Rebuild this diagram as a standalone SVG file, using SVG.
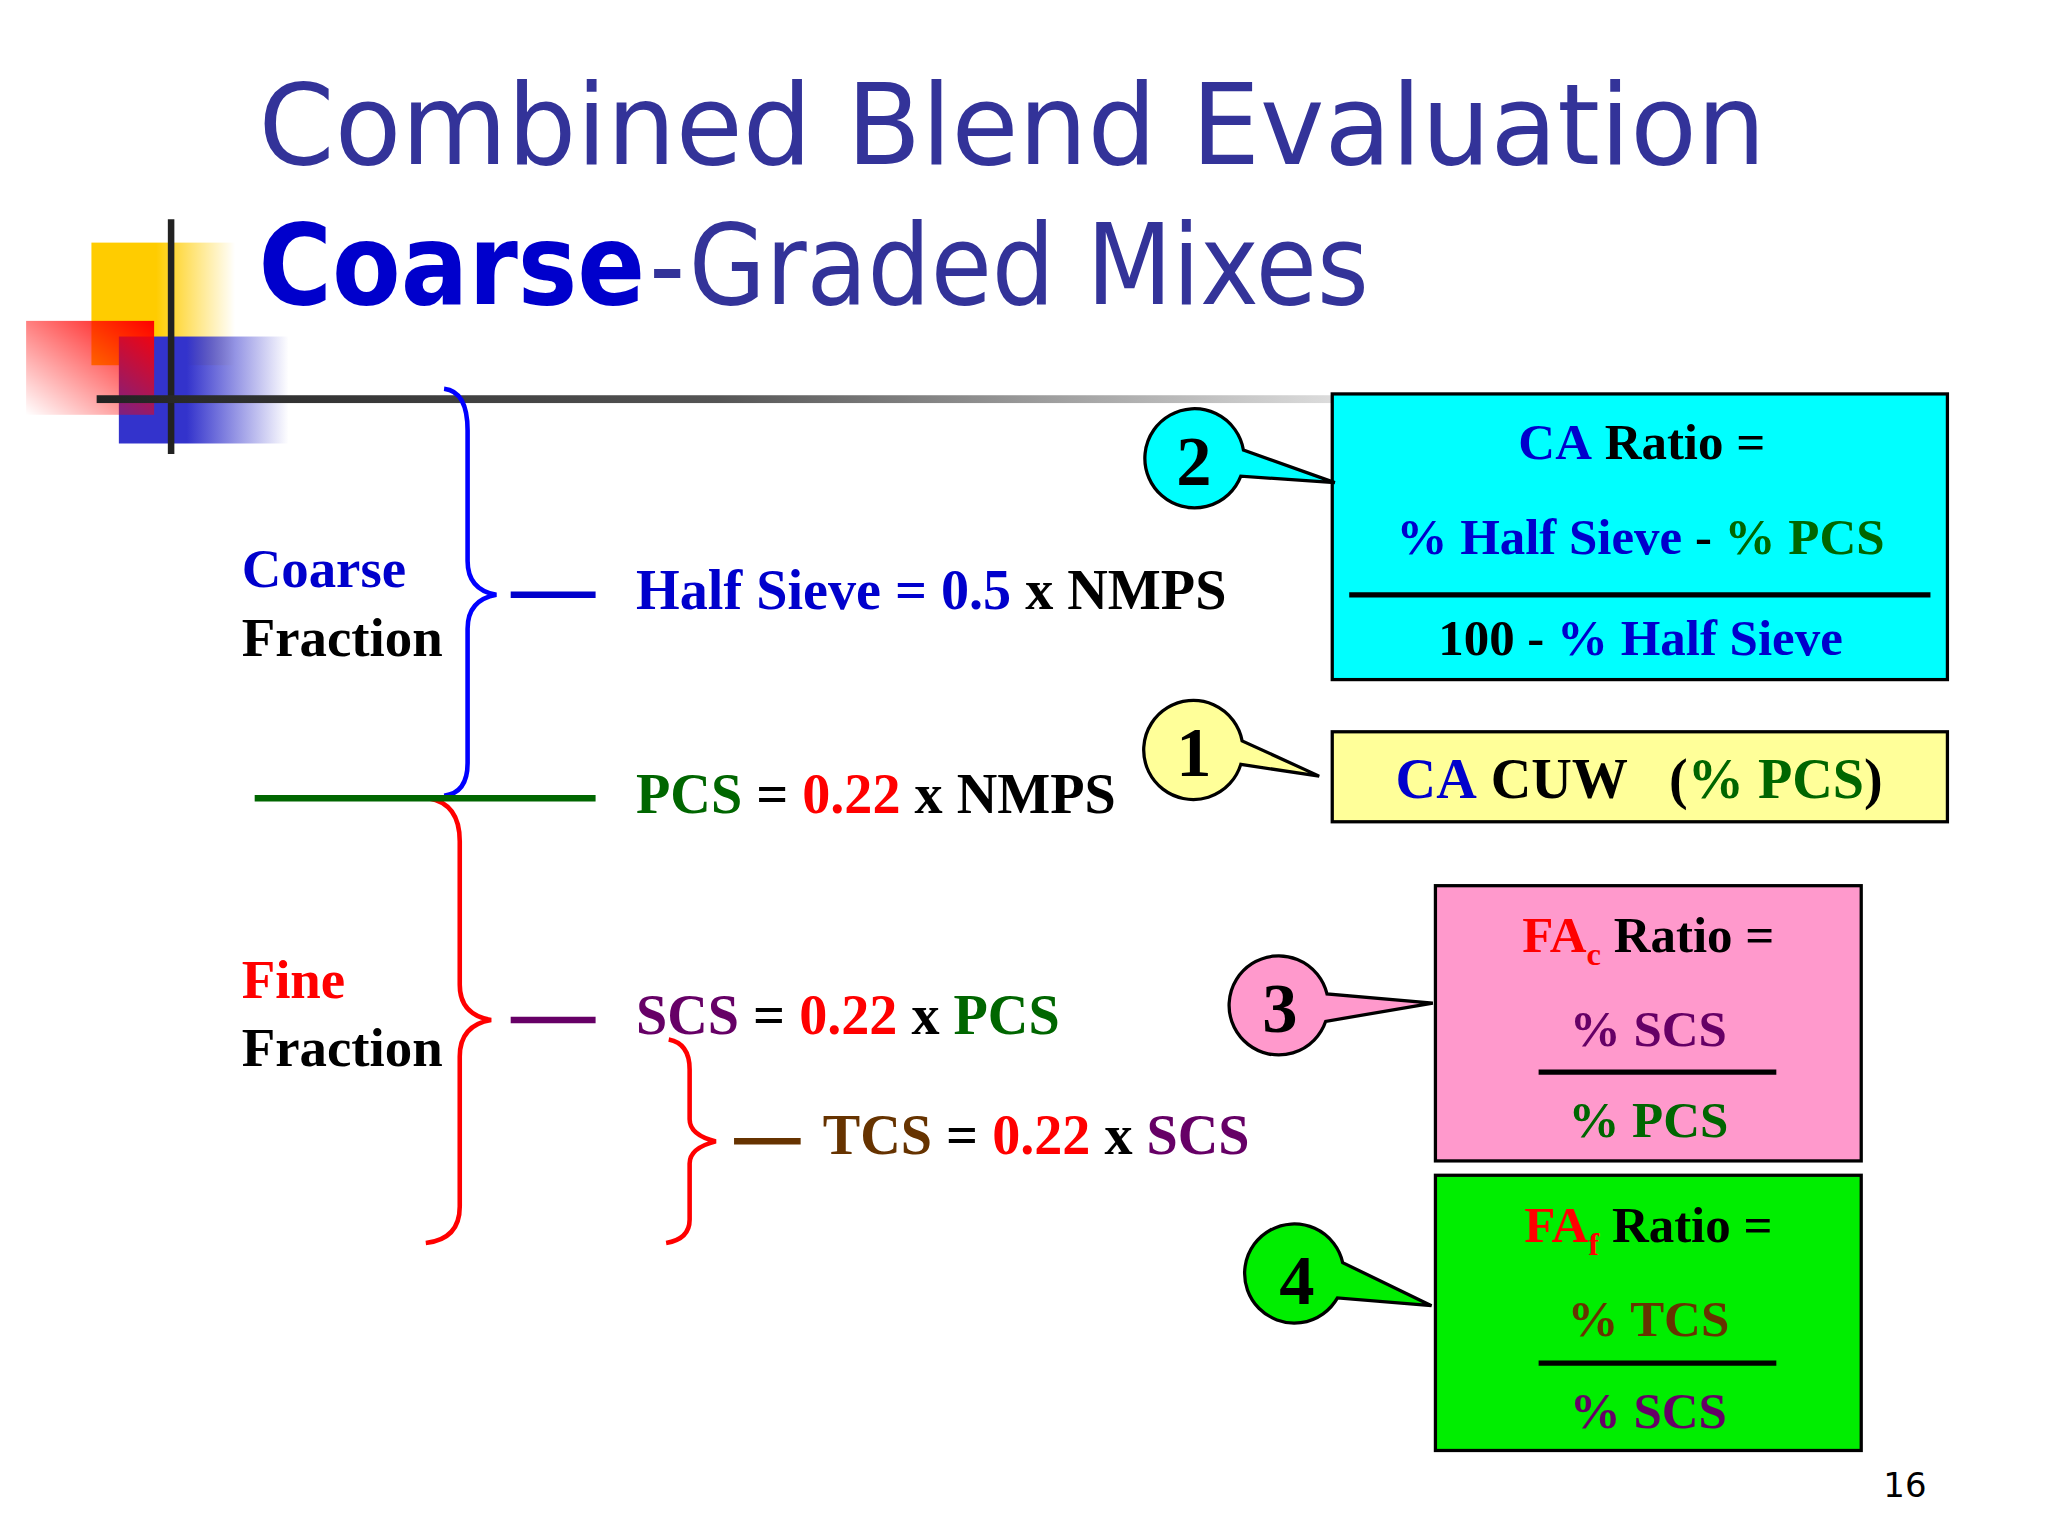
<svg xmlns="http://www.w3.org/2000/svg" width="2048" height="1534" viewBox="0 0 2048 1534">
<defs>
<linearGradient id="gy" x1="0" x2="1"><stop offset="0.45" stop-color="#FFCC00"/><stop offset="1" stop-color="#FFCC00" stop-opacity="0"/></linearGradient>
<linearGradient id="gb" x1="0" x2="1"><stop offset="0.4" stop-color="#3333CC"/><stop offset="1" stop-color="#3333CC" stop-opacity="0"/></linearGradient>
<linearGradient id="gr" x1="1" y1="0" x2="0" y2="1"><stop offset="0" stop-color="#FF0000"/><stop offset="1" stop-color="#FF0000" stop-opacity="0"/></linearGradient>
<linearGradient id="gl" x1="0" x2="1"><stop offset="0" stop-color="#222"/><stop offset="0.5" stop-color="#555"/><stop offset="1" stop-color="#ddd"/></linearGradient>
<style>
.t{font-family:"Liberation Serif",serif;font-weight:bold;font-size:43px}
.l{font-family:"Liberation Serif",serif;font-weight:bold;font-size:42px}
.b{font-family:"Liberation Serif",serif;font-weight:bold;font-size:39px}
.n{font-family:"Liberation Serif",serif;font-weight:bold;font-size:54px;text-anchor:middle}
.m{text-anchor:middle}
.bl{fill:#0000CC}.gn{fill:#006600}.rd{fill:#FF0000}.pu{fill:#660066}.br{fill:#663300}.k{fill:#000}
.box{stroke:#000;stroke-width:2.5}
.br2{fill:none;stroke-width:3.5}
</style>
</defs>
<rect width="2048" height="1534" fill="#fff"/>
<g transform="scale(1.30612,1.3044)">
<g id="logo">
<rect x="70" y="186" width="110" height="94" fill="url(#gy)"/>
<rect x="91" y="258" width="130" height="82" fill="url(#gb)"/>
<rect x="20" y="246" width="98" height="72" fill="url(#gr)"/>
<line x1="131" y1="168" x2="131" y2="348" stroke="#222" stroke-width="5"/>
<rect x="74" y="303" width="950" height="6" fill="url(#gl)"/>
</g>
<g id="title" font-family="'DejaVu Sans',sans-serif" font-size="86">
<text x="198" y="126" fill="#333399" textLength="1154" lengthAdjust="spacingAndGlyphs">Combined Blend Evaluation</text>
<text x="198" y="233" fill="#0000CC" font-weight="bold" textLength="296" lengthAdjust="spacingAndGlyphs">Coarse</text>
<text x="497" y="233" fill="#333399" textLength="551" lengthAdjust="spacingAndGlyphs">-Graded Mixes</text>
</g>
<g id="connectors">
<path class="br2" stroke="#0000FF" d="M340,298 Q358,300 358,330 L358,430 Q358,452 380,456 Q358,460 358,482 L358,585 Q358,608 340,610"/>
<path class="br2" stroke="#FF0000" d="M328,612 Q352,616 352,645 L352,755 Q352,778 376,782 Q352,786 352,810 L352,925 Q352,950 326,953"/>
<path class="br2" stroke="#FF0000" d="M512,797 Q528,800 528,820 L528,858 Q528,870 548,875 Q528,880 528,892 L528,935 Q528,950 510,953"/>
<line x1="391" y1="456" x2="456" y2="456" stroke="#0000CC" stroke-width="5"/>
<line x1="195" y1="612" x2="456" y2="612" stroke="#006600" stroke-width="5"/>
<line x1="391" y1="782" x2="456" y2="782" stroke="#660066" stroke-width="5"/>
<line x1="562" y1="875" x2="613" y2="875" stroke="#663300" stroke-width="5"/>
</g>
<g id="fractions" class="l">
<text x="185" y="450" class="bl">Coarse</text>
<text x="185" y="503" class="k">Fraction</text>
<text x="185" y="765" class="rd">Fine</text>
<text x="185" y="817" class="k">Fraction</text>
</g>
<g id="formulas" class="t">
<text x="487" y="467"><tspan class="bl">Half Sieve = 0.5</tspan><tspan class="k"> x NMPS</tspan></text>
<text x="487" y="623"><tspan class="gn">PCS</tspan><tspan class="k"> = </tspan><tspan class="rd">0.22</tspan><tspan class="k"> x NMPS</tspan></text>
<text x="487" y="793"><tspan class="pu">SCS</tspan><tspan class="k"> = </tspan><tspan class="rd">0.22</tspan><tspan class="k"> x </tspan><tspan class="gn">PCS</tspan></text>
<text x="630" y="885"><tspan class="br">TCS</tspan><tspan class="k"> = </tspan><tspan class="rd">0.22</tspan><tspan class="k"> x </tspan><tspan class="pu">SCS</tspan></text>
</g>
<g id="box2">
<rect class="box" x="1020" y="302" width="471" height="219" fill="#00FFFF"/>
<text class="b m" x="1257" y="352"><tspan class="bl">CA</tspan><tspan class="k"> Ratio =</tspan></text>
<text class="b m" x="1256" y="425"><tspan class="bl">% Half Sieve</tspan><tspan class="k"> - </tspan><tspan class="gn">% PCS</tspan></text>
<line x1="1033" y1="456" x2="1478" y2="456" stroke="#000" stroke-width="4"/>
<text class="b m" x="1256" y="502"><tspan class="k">100 - </tspan><tspan class="bl">% Half Sieve</tspan></text>
</g>
<g id="box1">
<rect class="box" x="1020" y="561" width="471" height="69" fill="#FFFF99"/>
<text class="t m" x="1255" y="612" font-size="44" xml:space="preserve"><tspan class="bl">CA</tspan><tspan class="k"> CUW   (</tspan><tspan class="gn">% PCS</tspan><tspan class="k">)</tspan></text>
</g>
<g id="box3">
<rect class="box" x="1099" y="679" width="326" height="211" fill="#FF99CC"/>
<text class="b m" x="1262" y="730"><tspan class="rd">FA</tspan><tspan class="rd" font-size="25" dy="10">c</tspan><tspan class="k" dy="-10"> Ratio =</tspan></text>
<text class="b m pu" x="1262" y="802">% SCS</text>
<line x1="1178" y1="822" x2="1360" y2="822" stroke="#000" stroke-width="4"/>
<text class="b m gn" x="1262" y="872">% PCS</text>
</g>
<g id="box4">
<rect class="box" x="1099" y="901" width="326" height="211" fill="#00EE00"/>
<text class="b m" x="1262" y="952"><tspan class="rd">FA</tspan><tspan class="rd" font-size="25" dy="10">f</tspan><tspan class="k" dy="-10"> Ratio =</tspan></text>
<text class="b m br" x="1262" y="1024">% TCS</text>
<line x1="1178" y1="1045" x2="1360" y2="1045" stroke="#000" stroke-width="4"/>
<text class="b m pu" x="1262" y="1095">% SCS</text>
</g>
<g id="callout2">
<path d="M952,345 A38,38 0 1 0 950,365 L1022,370 Z" fill="#00FFFF" stroke="#000" stroke-width="2.5"/>
<text class="n" x="914" y="372">2</text>
</g>
<g id="callout1">
<path d="M951,568 A38,38 0 1 0 950,586 L1010,595 Z" fill="#FFFF99" stroke="#000" stroke-width="2.5"/>
<text class="n" x="914" y="595">1</text>
</g>
<g id="callout3">
<path d="M1016,762 A38,38 0 1 0 1015,783 L1097,769 Z" fill="#FF99CC" stroke="#000" stroke-width="2.5"/>
<text class="n" x="980" y="791">3</text>
</g>
<g id="callout4">
<path d="M1028,968 A38,38 0 1 0 1024,995 L1096,1001 Z" fill="#00EE00" stroke="#000" stroke-width="2.5"/>
<text class="n" x="993" y="1000">4</text>
</g>
<text x="1475" y="1148" font-family="'DejaVu Sans',sans-serif" font-size="26" text-anchor="end">16</text>
</g>
</svg>
